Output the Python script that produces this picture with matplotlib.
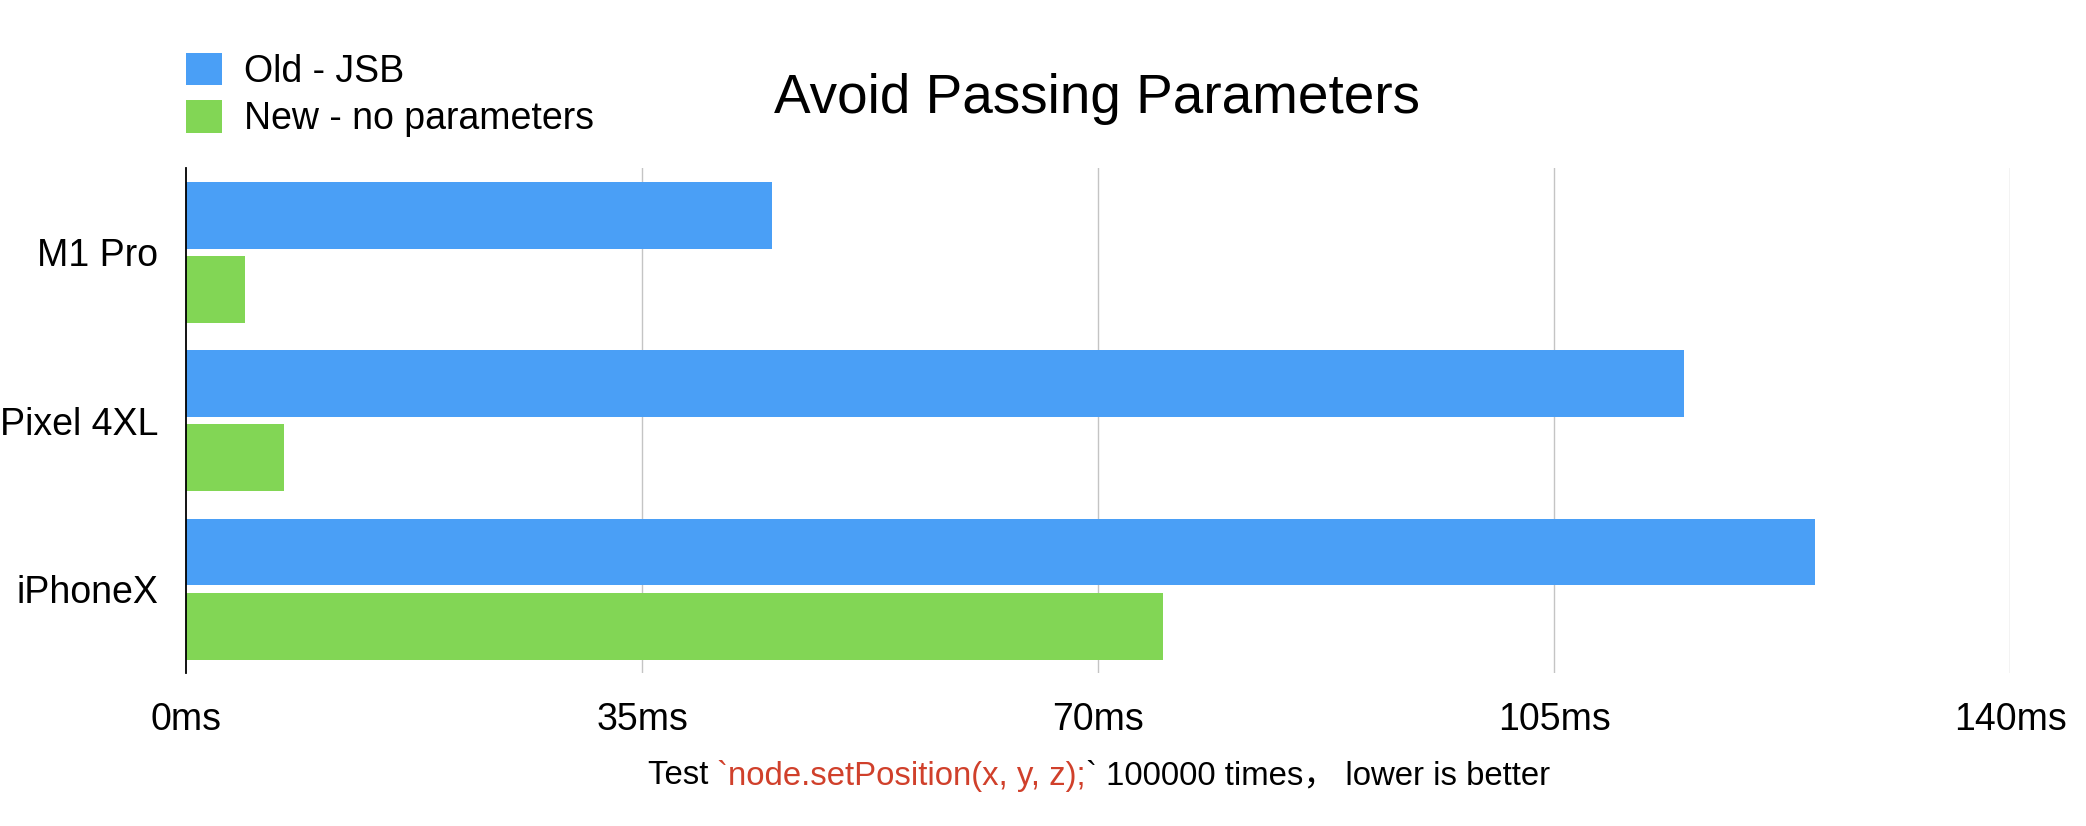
import numpy as np
import matplotlib
matplotlib.use("Agg")
import matplotlib.pyplot as plt
from matplotlib.patches import Patch

# ── Data ──────────────────────────────────────────────────────────────────────
devices = ["M1 Pro", "Pixel 4XL", "iPhoneX"]
old_jsb = [45.0, 115.0, 125.0]
new_noparam = [4.5, 7.5, 75.0]
x_ticks = [0, 35, 70, 105, 140]
x_tick_labels = ["0ms", "35ms", "70ms", "105ms", "140ms"]

BLUE = "#4A9FF6"
GREEN = "#82D655"
RED = "#D0402B"
GRID = "#C4C4C4"

plt.rcParams["font.family"] = ["Liberation Sans", "Noto Sans CJK SC", "DejaVu Sans"]

fig = plt.figure(figsize=(20.86, 8.26), dpi=100, facecolor="white")
ax = fig.add_axes([0.0892, 0.1849, 0.8744, 0.6113])

y = np.arange(len(devices))
bar_h = 0.397
off = 0.22
ax.barh(y - off, old_jsb, height=bar_h, color=BLUE, zorder=3, label="Old - JSB")
ax.barh(y + off, new_noparam, height=bar_h, color=GREEN, zorder=3, label="New - no parameters")

ax.set_xlim(0, 140)
ax.set_ylim(2.5, -0.5)
ax.set_xticks(x_ticks)
ax.set_xticklabels(x_tick_labels, fontsize=27)
ax.set_yticks(y)
ax.set_yticklabels(devices, fontsize=27)
ax.tick_params(axis="both", length=0)
ax.tick_params(axis="x", pad=21)
ax.tick_params(axis="y", pad=20)

for s in ["top", "right", "bottom"]:
    ax.spines[s].set_visible(False)
ax.spines["left"].set_color("black")
ax.spines["left"].set_linewidth(1.3)
ax.spines["left"].set_zorder(4)
for t in x_ticks[1:]:
    ax.axvline(t, color=GRID, linewidth=1.0, zorder=1)

# ── Title & legend ────────────────────────────────────────────────────────────
fig.text(0.526, 0.880, "Avoid Passing Parameters", ha="center", va="center", fontsize=39.5)

handles = [Patch(facecolor=BLUE, edgecolor="none"), Patch(facecolor=GREEN, edgecolor="none")]
fig.legend(handles, ["Old - JSB", "New - no parameters"], loc="upper left",
           bbox_to_anchor=(0.0892, 0.936), frameon=False, fontsize=27,
           borderpad=0, borderaxespad=0, handlelength=0.95, handleheight=0.95,
           handletextpad=0.6, labelspacing=0.28)

# ── Footnote with coloured code span ──────────────────────────────────────────
parts = [("Test ", "black"), ("`node.setPosition(x, y, z);", RED),
         ("` 100000 times\uff0c lower is better", "black")]
fig.canvas.draw()
renderer = fig.canvas.get_renderer()
texts = []
for s, c in parts:
    texts.append(fig.text(0, 0.061, s, color=c, fontsize=23.7, ha="left", va="center"))
widths = [t.get_window_extent(renderer).width for t in texts]
total = sum(widths)
xpix = 1099 - total / 2
for t, w in zip(texts, widths):
    t.set_x(xpix / fig.bbox.width)
    xpix += w

fig.savefig("out.png", dpi=100, facecolor="white")
